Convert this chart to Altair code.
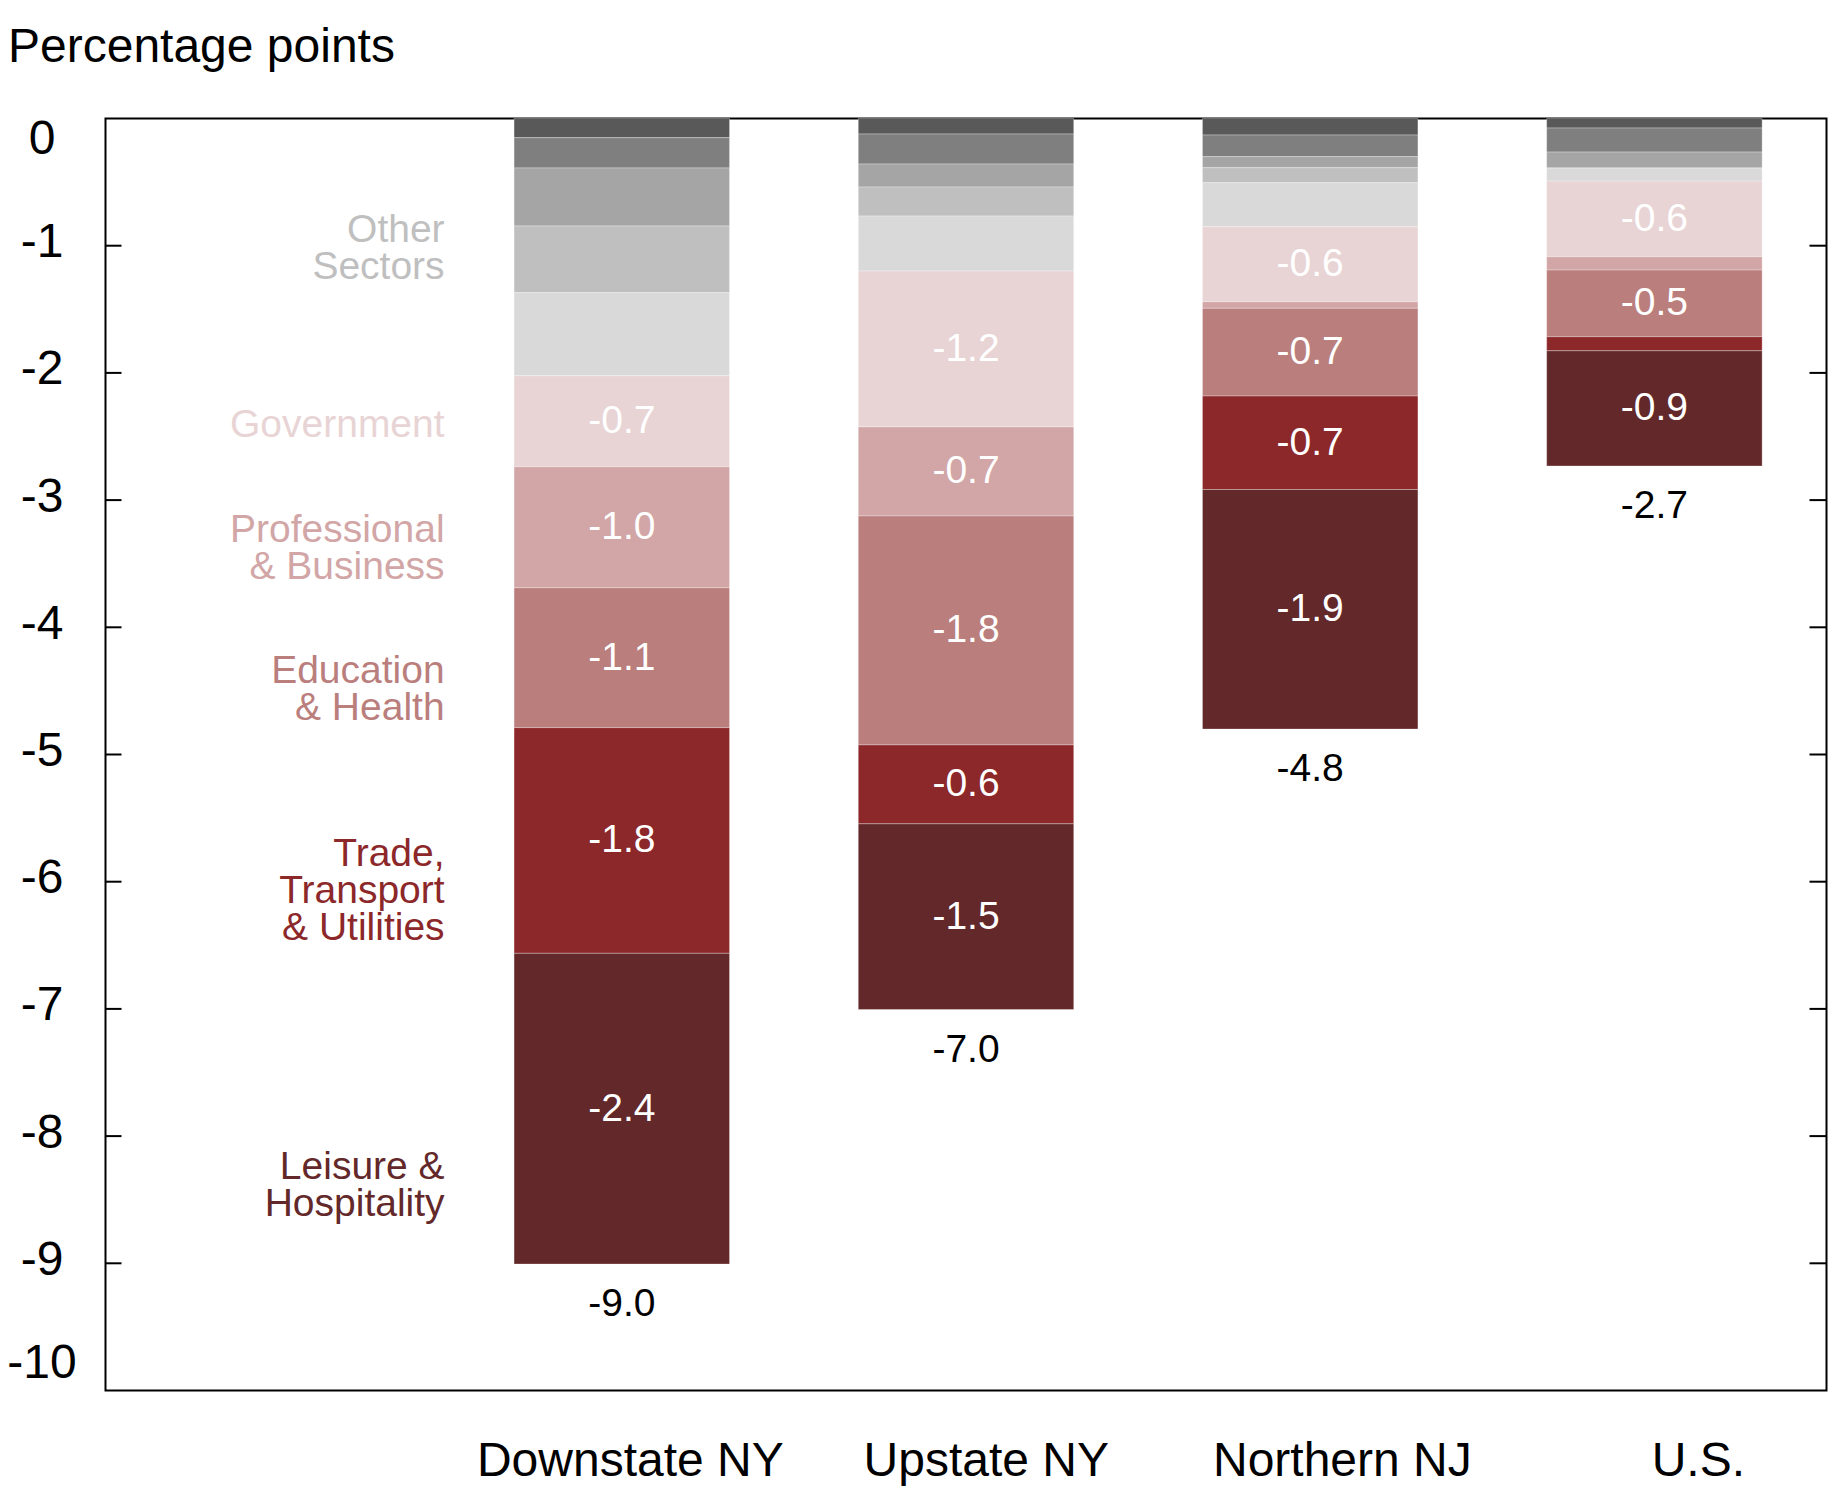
import altair as alt
import pandas as pd

# ---------------- data ----------------
regions = ["Downstate NY", "Upstate NY", "Northern NJ", "U.S."]
x_domain = [""] + regions  # first (empty) column holds the sector labels

sectors = ["Other 1", "Other 2", "Other 3", "Other 4", "Other 5",
           "Government", "Professional & Business", "Education & Health",
           "Trade, Transport & Utilities", "Leisure & Hospitality"]
colors = ["#595959", "#7f7f7f", "#a5a5a5", "#bfbfbf", "#d9d9d9",
          "#e8d4d5", "#d2a6a6", "#ba7e7d", "#8c272a", "#632829"]

downstate = [-0.151, -0.238, -0.456, -0.524, -0.653, -0.716, -0.951, -1.100, -1.774, -2.443]
upstate = [-0.122, -0.236, -0.181, -0.228, -0.432, -1.226, -0.700, -1.800, -0.620, -1.460]
northern_nj = [-0.130, -0.170, -0.087, -0.118, -0.346, -0.589, -0.052, -0.690, -0.735, -1.883]
us = [-0.075, -0.189, -0.126, 0.000, -0.102, -0.595, -0.105, -0.524, -0.110, -0.906]
series = [downstate, upstate, northern_nj, us]

downstate_labels = ["", "", "", "", "", "-0.7", "-1.0", "-1.1", "-1.8", "-2.4"]
upstate_labels = ["", "", "", "", "", "-1.2", "-0.7", "-1.8", "-0.6", "-1.5"]
northern_nj_labels = ["", "", "", "", "", "-0.6", "", "-0.7", "-0.7", "-1.9"]
us_labels = ["", "", "", "", "", "-0.6", "", "-0.5", "", "-0.9"]
series_labels = [downstate_labels, upstate_labels, northern_nj_labels, us_labels]

sector_label_text = [["Other", "Sectors"], ["Government"], ["Professional", "& Business"],
                     ["Education", "& Health"], ["Trade,", "Transport", "& Utilities"],
                     ["Leisure &", "Hospitality"]]
sector_label_key = ["Other 4", "Government", "Professional & Business",
                    "Education & Health", "Trade, Transport & Utilities", "Leisure & Hospitality"]
sector_label_y = [-0.97, -2.506, -3.327, -4.440, -5.873, -8.337]

y_ticks = list(range(-10, 1))
inner_ticks = list(range(-9, 0))

# ---------------- tables ----------------
rows = []
totals = []
for reg, vals, labs in zip(regions, series, series_labels):
    start = 0.0
    for i, (sec, v, lab) in enumerate(zip(sectors, vals, labs)):
        end = start + v
        rows.append(dict(region=reg, sector=sec, order=i, value=v,
                         start=start, end=end, mid=(start + end) / 2, label=lab))
        start = end
    totals.append(dict(region=reg, total=start, label=f"{start:.1f}"))
df = pd.DataFrame(rows)
df_tot = pd.DataFrame(totals)
df_lab = pd.DataFrame(dict(region=[""] * len(sector_label_key), sector=sector_label_key,
                           y=sector_label_y, text=sector_label_text))
df_ticks = pd.DataFrame(dict(t=inner_ticks))

W, H = 1721, 1272
FONT = "Liberation Sans"

x_enc = alt.X("region:N", scale=alt.Scale(domain=x_domain, paddingInner=0.374, paddingOuter=0.187),
              sort=x_domain, axis=None)
y_scale = alt.Scale(domain=[-10, 0], nice=False, zero=False)
y_axis = alt.Axis(title=None, values=y_ticks, labelExpr="datum.value + ''", domain=False,
                  ticks=False, tickSize=0, grid=False, labelFontSize=48, labelFont=FONT,
                  labelColor="black", labelAlign="center", labelPadding=64,
                  labelFlush=True, labelOffset=-3)
color_enc = alt.Color("sector:N", scale=alt.Scale(domain=sectors, range=colors), legend=None)

bars = alt.Chart(df).mark_bar(stroke="white", strokeWidth=1, strokeOpacity=0.3).encode(
    x=x_enc,
    y=alt.Y("start:Q", scale=y_scale, axis=y_axis),
    y2="end:Q",
    color=color_enc,
)

values = alt.Chart(df).mark_text(font=FONT, fontSize=39, color="white", baseline="middle",
                                 align="center").encode(
    x=x_enc,
    y=alt.Y("mid:Q", scale=y_scale, axis=y_axis),
    text="label:N",
)

tot = alt.Chart(df_tot).mark_text(font=FONT, fontSize=39, color="black", baseline="alphabetic",
                                  align="center", dy=52).encode(
    x=x_enc,
    y=alt.Y("total:Q", scale=y_scale, axis=y_axis),
    text="label:N",
)

sector_labels = alt.Chart(df_lab).mark_text(font=FONT, fontSize=39, baseline="alphabetic",
                                            align="right", dx=167, lineHeight=37).encode(
    x=x_enc,
    y=alt.Y("y:Q", scale=y_scale, axis=y_axis),
    text="text",
    color=color_enc,
)

ticks_left = alt.Chart(df_ticks).mark_rule(color="black", strokeWidth=2).encode(
    x=alt.value(0), x2=alt.value(16),
    y=alt.Y("t:Q", scale=y_scale, axis=y_axis),
)
ticks_right = alt.Chart(df_ticks).mark_rule(color="black", strokeWidth=2).encode(
    x=alt.value(W - 17), x2=alt.value(W),
    y=alt.Y("t:Q", scale=y_scale, axis=y_axis),
)

# category axis (its labels sit on their own, slightly wider spacing)
cat_axis = alt.Chart(df_tot).mark_point(opacity=0).encode(
    x=alt.X("region:N", sort=regions,
            scale=alt.Scale(type="point", domain=regions, padding=0.917, align=0.803),
            axis=alt.Axis(orient="bottom", title=None, domain=False, ticks=False, tickSize=0,
                          labelFontSize=48, labelFont=FONT, labelColor="black",
                          labelPadding=85, labelBaseline="alphabetic", labelAngle=0,
                          labelLimit=0)),
    y=alt.Y("total:Q", scale=y_scale, axis=y_axis),
)

chart = alt.layer(bars, values, tot, sector_labels, ticks_left, ticks_right, cat_axis).resolve_scale(
    x="independent"
).properties(
    width=W, height=H,
    autosize=alt.AutoSizeParams(type="none"),
    padding={"left": 97.5, "top": 110.5, "right": 4, "bottom": 100},
    title=alt.TitleParams("Percentage points", anchor="start", frame="group", fontSize=48,
                          font=FONT, fontWeight="normal", baseline="alphabetic",
                          offset=-5.5, dx=-97.5, color="black"),
).configure(background="white").configure_view(stroke="black", strokeWidth=2)

chart.save("out.html", embed_options={"renderer": "svg", "actions": False})
